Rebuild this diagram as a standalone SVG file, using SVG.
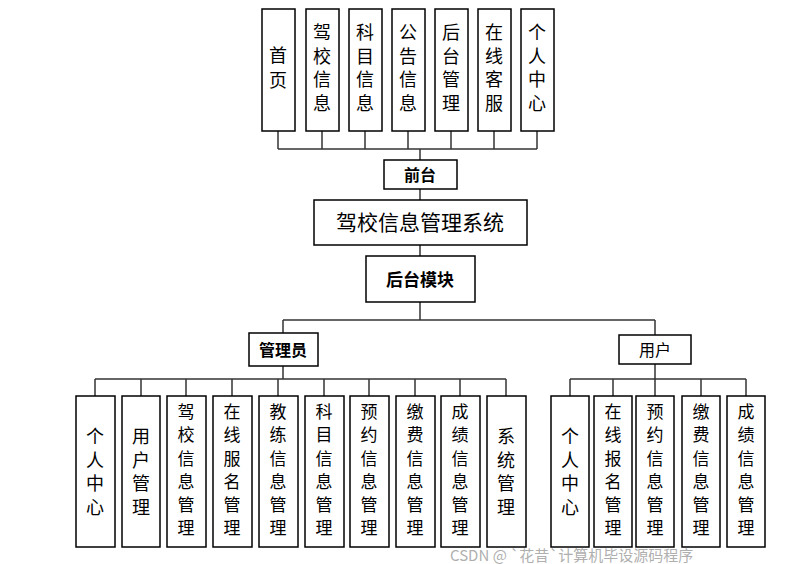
<svg xmlns="http://www.w3.org/2000/svg" width="787" height="564" viewBox="0 0 787 564">
<style>
rect{fill:#fff;stroke:#000;stroke-width:1.5}
text{font-family:"Noto Sans CJK SC","Liberation Sans",sans-serif;fill:#000;text-anchor:middle}
.v{font-size:17px}
.w{font-size:18px}
.c line{stroke:#333;stroke-width:1.5;fill:none}
</style>
<rect x="0" y="0" width="787" height="564" style="fill:#fff;stroke:none"/>
<g class="c" id="connectors">
<line x1="278" y1="149" x2="537" y2="149"/>
<line x1="278" y1="131" x2="278" y2="149"/><line x1="322" y1="131" x2="322" y2="149"/><line x1="365" y1="131" x2="365" y2="149"/><line x1="408" y1="131" x2="408" y2="149"/><line x1="451" y1="131" x2="451" y2="149"/><line x1="494" y1="131" x2="494" y2="149"/><line x1="537" y1="131" x2="537" y2="149"/>
<line x1="420" y1="149" x2="420" y2="160"/>
<line x1="420" y1="189" x2="420" y2="200"/>
<line x1="420" y1="245" x2="420" y2="256"/>
<line x1="420" y1="302" x2="420" y2="320"/>
<line x1="283" y1="320" x2="655" y2="320"/>
<line x1="283" y1="320" x2="283" y2="333"/>
<line x1="655" y1="320" x2="655" y2="335"/>
<line x1="283" y1="366" x2="283" y2="379"/>
<line x1="95" y1="379" x2="506" y2="379"/>
<line x1="95" y1="379" x2="95" y2="396"/><line x1="141" y1="379" x2="141" y2="396"/><line x1="186" y1="379" x2="186" y2="396"/><line x1="232" y1="379" x2="232" y2="396"/><line x1="278" y1="379" x2="278" y2="396"/><line x1="324" y1="379" x2="324" y2="396"/><line x1="369" y1="379" x2="369" y2="396"/><line x1="415" y1="379" x2="415" y2="396"/><line x1="460" y1="379" x2="460" y2="396"/><line x1="506" y1="379" x2="506" y2="396"/>
<line x1="655" y1="364" x2="655" y2="379"/>
<line x1="570" y1="379" x2="746" y2="379"/>
<line x1="570" y1="379" x2="570" y2="396"/><line x1="613" y1="379" x2="613" y2="396"/><line x1="655" y1="379" x2="655" y2="396"/><line x1="701" y1="379" x2="701" y2="396"/><line x1="746" y1="379" x2="746" y2="396"/>
</g>
<g id="n-top">
<g id="t1"><rect x="262" y="9" width="33" height="122"/><text class="w"><tspan x="278" y="62">首</tspan><tspan x="278" y="87">页</tspan></text></g>
<g id="t2"><rect x="306" y="9" width="33" height="122"/><text class="w"><tspan x="322" y="39">驾</tspan><tspan x="322" y="63">校</tspan><tspan x="322" y="86">信</tspan><tspan x="322" y="110">息</tspan></text></g>
<g id="t3"><rect x="349" y="9" width="33" height="122"/><text class="w"><tspan x="365" y="39">科</tspan><tspan x="365" y="63">目</tspan><tspan x="365" y="86">信</tspan><tspan x="365" y="110">息</tspan></text></g>
<g id="t4"><rect x="392" y="9" width="33" height="122"/><text class="w"><tspan x="408" y="39">公</tspan><tspan x="408" y="63">告</tspan><tspan x="408" y="86">信</tspan><tspan x="408" y="110">息</tspan></text></g>
<g id="t5"><rect x="435" y="9" width="33" height="122"/><text class="w"><tspan x="451" y="39">后</tspan><tspan x="451" y="63">台</tspan><tspan x="451" y="86">管</tspan><tspan x="451" y="110">理</tspan></text></g>
<g id="t6"><rect x="478" y="9" width="33" height="122"/><text class="w"><tspan x="494" y="39">在</tspan><tspan x="494" y="63">线</tspan><tspan x="494" y="86">客</tspan><tspan x="494" y="110">服</tspan></text></g>
<g id="t7"><rect x="521" y="9" width="33" height="122"/><text class="w"><tspan x="537" y="39">个</tspan><tspan x="537" y="63">人</tspan><tspan x="537" y="86">中</tspan><tspan x="537" y="110">心</tspan></text></g>
</g>
<g id="qiantai"><rect x="384" y="160" width="73" height="29"/><text x="420" y="181" style="font-size:16px;font-weight:bold">前台</text></g>
<g id="system"><rect x="314" y="200" width="213" height="45"/><text x="420" y="230" style="font-size:21px">驾校信息管理系统</text></g>
<g id="houtai"><rect x="366" y="256" width="109" height="46"/><text x="420" y="286" style="font-size:17px;font-weight:bold">后台模块</text></g>
<g id="admin"><rect x="249" y="333" width="69" height="33"/><text x="283" y="356" style="font-size:16px;font-weight:bold">管理员</text></g>
<g id="user"><rect x="619" y="335" width="72" height="29"/><text x="655" y="356" style="font-size:16px">用户</text></g>
<g id="admin-children">
<g id="a1"><rect x="76" y="396" width="39" height="151"/><text class="w"><tspan x="95" y="443">个</tspan><tspan x="95" y="467">人</tspan><tspan x="95" y="490">中</tspan><tspan x="95" y="514">心</tspan></text></g>
<g id="a2"><rect x="122" y="396" width="38" height="151"/><text class="w"><tspan x="141" y="443">用</tspan><tspan x="141" y="467">户</tspan><tspan x="141" y="490">管</tspan><tspan x="141" y="514">理</tspan></text></g>
<g id="a3"><rect x="167" y="396" width="39" height="151"/><text class="v"><tspan x="186" y="418">驾</tspan><tspan x="186" y="441">校</tspan><tspan x="186" y="465">信</tspan><tspan x="186" y="488">息</tspan><tspan x="186" y="511">管</tspan><tspan x="186" y="534">理</tspan></text></g>
<g id="a4"><rect x="213" y="396" width="39" height="151"/><text class="v"><tspan x="232" y="418">在</tspan><tspan x="232" y="441">线</tspan><tspan x="232" y="465">服</tspan><tspan x="232" y="488">名</tspan><tspan x="232" y="511">管</tspan><tspan x="232" y="534">理</tspan></text></g>
<g id="a5"><rect x="259" y="396" width="39" height="151"/><text class="v"><tspan x="278" y="418">教</tspan><tspan x="278" y="441">练</tspan><tspan x="278" y="465">信</tspan><tspan x="278" y="488">息</tspan><tspan x="278" y="511">管</tspan><tspan x="278" y="534">理</tspan></text></g>
<g id="a6"><rect x="305" y="396" width="39" height="151"/><text class="v"><tspan x="324" y="418">科</tspan><tspan x="324" y="441">目</tspan><tspan x="324" y="465">信</tspan><tspan x="324" y="488">息</tspan><tspan x="324" y="511">管</tspan><tspan x="324" y="534">理</tspan></text></g>
<g id="a7"><rect x="350" y="396" width="39" height="151"/><text class="v"><tspan x="369" y="418">预</tspan><tspan x="369" y="441">约</tspan><tspan x="369" y="465">信</tspan><tspan x="369" y="488">息</tspan><tspan x="369" y="511">管</tspan><tspan x="369" y="534">理</tspan></text></g>
<g id="a8"><rect x="396" y="396" width="39" height="151"/><text class="v"><tspan x="415" y="418">缴</tspan><tspan x="415" y="441">费</tspan><tspan x="415" y="465">信</tspan><tspan x="415" y="488">息</tspan><tspan x="415" y="511">管</tspan><tspan x="415" y="534">理</tspan></text></g>
<g id="a9"><rect x="441" y="396" width="39" height="151"/><text class="v"><tspan x="460" y="418">成</tspan><tspan x="460" y="441">绩</tspan><tspan x="460" y="465">信</tspan><tspan x="460" y="488">息</tspan><tspan x="460" y="511">管</tspan><tspan x="460" y="534">理</tspan></text></g>
<g id="a10"><rect x="487" y="396" width="39" height="151"/><text class="w"><tspan x="506" y="443">系</tspan><tspan x="506" y="467">统</tspan><tspan x="506" y="490">管</tspan><tspan x="506" y="514">理</tspan></text></g>
</g>
<g id="user-children">
<g id="u1"><rect x="551" y="396" width="38" height="151"/><text class="w"><tspan x="570" y="443">个</tspan><tspan x="570" y="467">人</tspan><tspan x="570" y="490">中</tspan><tspan x="570" y="514">心</tspan></text></g>
<g id="u2"><rect x="594" y="396" width="38" height="151"/><text class="v"><tspan x="613" y="418">在</tspan><tspan x="613" y="441">线</tspan><tspan x="613" y="465">报</tspan><tspan x="613" y="488">名</tspan><tspan x="613" y="511">管</tspan><tspan x="613" y="534">理</tspan></text></g>
<g id="u3"><rect x="636" y="396" width="38" height="151"/><text class="v"><tspan x="655" y="418">预</tspan><tspan x="655" y="441">约</tspan><tspan x="655" y="465">信</tspan><tspan x="655" y="488">息</tspan><tspan x="655" y="511">管</tspan><tspan x="655" y="534">理</tspan></text></g>
<g id="u4"><rect x="682" y="396" width="38" height="151"/><text class="v"><tspan x="701" y="418">缴</tspan><tspan x="701" y="441">费</tspan><tspan x="701" y="465">信</tspan><tspan x="701" y="488">息</tspan><tspan x="701" y="511">管</tspan><tspan x="701" y="534">理</tspan></text></g>
<g id="u5"><rect x="727" y="396" width="38" height="151"/><text class="v"><tspan x="746" y="418">成</tspan><tspan x="746" y="441">绩</tspan><tspan x="746" y="465">信</tspan><tspan x="746" y="488">息</tspan><tspan x="746" y="511">管</tspan><tspan x="746" y="534">理</tspan></text></g>
</g>
<text x="450" y="561" style="font-size:15px;fill:#999;fill-opacity:0.8;text-anchor:start">CSDN @ `花昔`计算机毕设源码程序</text>
</svg>
